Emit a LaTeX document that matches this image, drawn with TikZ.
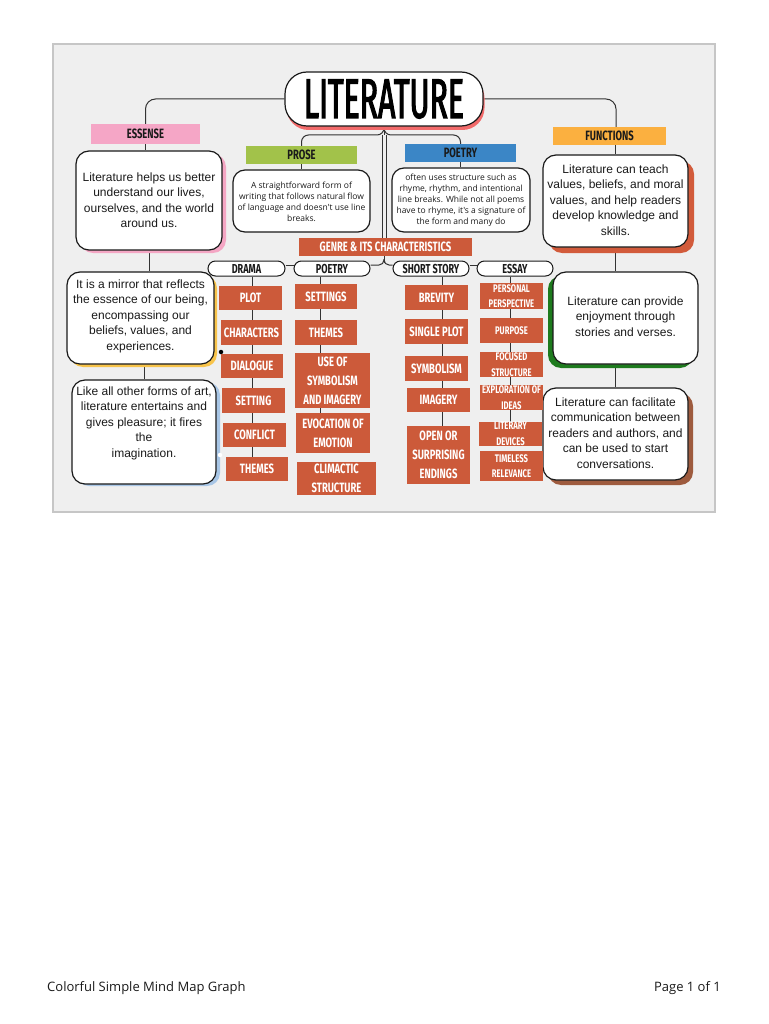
\documentclass[tikz,border=0pt]{standalone}
\usepackage{fontspec}
\setmainfont{Liberation Sans}
\newfontfamily\titlef[FakeStretch=0.54,FakeBold=2]{Fira Sans}
\newfontfamily\labf[FakeStretch=0.7]{Fira Sans}
\newfontfamily\smallf{Open Sans}
\newfontfamily\footf{Open Sans}
\usetikzlibrary{shadows,calc}
\pgfdeclarelayer{back}
\pgfdeclarelayer{bg}
\pgfsetlayers{back,bg,main}
\definecolor{panelC}{HTML}{EFEFEF}
\definecolor{panelB}{HTML}{C6C6C6}
\definecolor{pinkL}{HTML}{F5A6C6}
\definecolor{greenL}{HTML}{A2C24A}
\definecolor{blueL}{HTML}{3B86C6}
\definecolor{orangeL}{HTML}{FBB040}
\definecolor{redB}{HTML}{CC5A3A}
\definecolor{titleS}{HTML}{F26B6B}
\definecolor{pinkS}{HTML}{F4A6C4}
\definecolor{yellowS}{HTML}{F8C44A}
\definecolor{blueS}{HTML}{A8C6E6}
\definecolor{redS}{HTML}{D25B3B}
\definecolor{greenS}{HTML}{1E7B1E}
\definecolor{brownS}{HTML}{9E5B3E}
\definecolor{inkC}{HTML}{1A1A1A}
\definecolor{lineC}{HTML}{333333}
\newcommand\boxat[7][]{\node[#1, minimum width={#5-#3}, minimum height={#6-#4}] (#2) at ({(#3+#5)/2},{(#4+#6)/2}) {#7};}
\tikzset{
  conn/.style={draw=lineC, line width=1pt},
  lbl/.style={inner sep=0, text=inkC, font=\labf\bfseries\fontsize{13.5}{16}\selectfont},
  rb/.style={inner sep=0, fill=redB, text=white, align=center, font=\labf\bfseries\fontsize{13.5}{19}\selectfont},
  eb/.style={inner sep=0, fill=redB, text=white, align=center, font=\labf\bfseries\fontsize{11}{15.5}\selectfont},
  pill/.style={inner sep=0, draw=inkC, line width=1pt, fill=white, rounded corners=7.5pt, text=inkC, font=\labf\bfseries\fontsize{13}{15}\selectfont},
  bigbox/.style={inner sep=0, draw=inkC, line width=1.2pt, fill=white, rounded corners=13pt},
  ptxt/.style={inner sep=0, align=center, text=inkC, font=\fontsize{12}{15.5}\selectfont},
  stxt/.style={inner sep=0, align=center, text=inkC, font=\smallf\fontsize{8.5}{11}\selectfont},
}
\begin{document}
\begin{tikzpicture}[x=1pt,y=-1pt]
\useasboundingbox (0,0) rectangle (768,1024);
\begin{pgfonlayer}{back}
\fill[white] (0,0) rectangle (768,1024);
\draw[fill=panelC, draw=panelB, line width=1.5pt] (53,44) rectangle (715,512);
\end{pgfonlayer}

% title
\boxat[bigbox, rounded corners=22pt, drop shadow={shadow xshift=1.5pt, shadow yshift=-4pt, fill=titleS, opacity=1}]{lit}{285}{72}{483}{126}{\titlef\fontsize{56}{56}\selectfont LITERATURE}

% coloured labels
\boxat[lbl, fill=pinkL]{ess}{91}{124}{200}{144}{ESSENSE}
\boxat[lbl, fill=greenL]{pr}{246}{146}{357}{164}{PROSE}
\boxat[lbl, fill=blueL]{po}{405}{144}{516}{162}{POETRY}
\boxat[lbl, fill=orangeL]{fun}{553}{127}{666}{145}{FUNCTIONS}
\boxat[lbl, fill=redB, text=white]{gen}{299}{238}{472}{256}{GENRE \& ITS CHARACTERISTICS}

% big boxes
\boxat[bigbox, drop shadow={shadow xshift=4pt, shadow yshift=-3pt, fill=pinkS, opacity=1}]{b1}{76}{151}{222}{250}{}
\boxat[bigbox, drop shadow={shadow xshift=3pt, shadow yshift=-3pt, fill=yellowS, opacity=1}]{b2}{67}{272}{214}{364}{}
\boxat[bigbox, drop shadow={shadow xshift=4pt, shadow yshift=-2pt, fill=blueS, opacity=1}]{b3}{72}{380}{216}{484}{}
\boxat[bigbox, drop shadow={shadow xshift=6pt, shadow yshift=-6pt, fill=redS, opacity=1}]{b4}{543}{155}{688}{247}{}
\boxat[bigbox, drop shadow={shadow xshift=-5pt, shadow yshift=-4pt, fill=greenS, opacity=1}]{b5}{553}{272}{698}{364}{}
\boxat[bigbox, drop shadow={shadow xshift=5pt, shadow yshift=-5pt, fill=brownS, opacity=1}]{b6}{543}{388}{688}{480}{}
\boxat[bigbox, rounded corners=12pt]{prB}{233}{170}{370}{232}{}
\boxat[bigbox, rounded corners=12pt]{poB}{392}{168}{530}{232}{}

\node[ptxt] (t1) at (149,200) {Literature helps us better\\understand our lives,\\ourselves, and the world\\around us.};
\node[ptxt] (t2) at (140.5,316) {It is a mirror that reflects\\the essence of our being,\\encompassing our\\beliefs, values, and\\experiences.};
\node[ptxt] (t3) at (144,423) {Like all other forms of art,\\literature entertains and\\gives pleasure; it fires\\the\\imagination.};
\node[ptxt] (t4) at (615.5,200) {Literature can teach\\values, beliefs, and moral\\values, and help readers\\develop knowledge and\\skills.};
\node[ptxt] (t5) at (625.5,316.5) {Literature can provide\\enjoyment through\\stories and verses.};
\node[ptxt] (t6) at (615.5,433) {Literature can facilitate\\communication between\\readers and authors, and\\can be used to start\\conversations.};
\node[stxt] (t7) at (301.5,201.5) {A straightforward form of\\writing that follows natural flow\\of language and doesn't use line\\breaks.};
\node[stxt] (t8) at (461,200) {often uses structure such as\\rhyme, rhythm, and intentional\\line breaks. While not all poems\\have to rhyme, it's a signature of\\the form and many do};

% dots
\node[circle, fill=black, inner sep=0, minimum size=4.5pt] (dotA) at (221,352) {};
\node[circle, fill=white, inner sep=0, minimum size=4.5pt] (dotB) at (220,455) {};

% pills
\boxat[pill]{dP}{208}{261}{285}{276}{DRAMA}
\boxat[pill]{pP}{294}{261}{370}{276}{POETRY}
\boxat[pill]{sP}{393}{261}{469}{276}{SHORT STORY}
\boxat[pill]{eP}{477}{261}{553}{276}{ESSAY}

% drama
\boxat[rb]{d1}{219}{286}{282}{310}{PLOT}
\boxat[rb]{d2}{221}{320}{282}{345}{CHARACTERS}
\boxat[rb]{d3}{221}{354}{283}{378}{DIALOGUE}
\boxat[rb]{d4}{222}{388}{285}{413}{SETTING}
\boxat[rb]{d5}{223}{423}{286}{447}{CONFLICT}
\boxat[rb]{d6}{226}{457}{288}{481}{THEMES}
% poetry
\boxat[rb]{p1}{295}{284}{357}{309}{SETTINGS}
\boxat[rb]{p2}{295}{320}{357}{345}{THEMES}
\boxat[rb]{p3}{295}{353}{370}{408}{USE OF\\SYMBOLISM\\AND IMAGERY}
\boxat[rb]{p4}{296}{413}{370}{453}{EVOCATION OF\\EMOTION}
\boxat[rb]{p5}{297}{462}{376}{495}{CLIMACTIC\\STRUCTURE}
% short story
\boxat[rb]{s1}{405}{285}{468}{310}{BREVITY}
\boxat[rb]{s2}{405}{319}{468}{344}{SINGLE PLOT}
\boxat[rb]{s3}{405}{356}{468}{381}{SYMBOLISM}
\boxat[rb]{s4}{407}{388}{470}{412}{IMAGERY}
\boxat[rb]{s5}{407}{426}{470}{484}{OPEN OR\\SURPRISING\\ENDINGS}
% essay
\boxat[eb]{e1}{480}{283}{543}{309}{PERSONAL\\PERSPECTIVE}
\boxat[eb]{e2}{480}{318}{543}{343}{PURPOSE}
\boxat[eb]{e3}{480}{352}{543}{377}{FOCUSED\\STRUCTURE}
\boxat[eb]{e4}{480}{385}{543}{410}{EXPLORATION OF\\IDEAS}
\boxat[eb]{e5}{479}{422}{542}{446}{LITERARY\\DEVICES}
\boxat[eb]{e6}{480}{451}{543}{481}{TIMELESS\\RELEVANCE}

% footer
\node[anchor=west, inner sep=0, text=inkC, font=\footf\fontsize{13}{15}\selectfont] (f1) at (47,988) {Colorful Simple Mind Map Graph};
\node[anchor=east, inner sep=0, text=inkC, font=\footf\fontsize{13}{15}\selectfont] (f2) at (721,988) {Page 1 of 1};

% connectors
\coordinate (jt) at (384,135);
\coordinate (jg) at (384,265);
\coordinate (dX) at (252,0);
\coordinate (pX) at (320,0);
\coordinate (sX) at (442,0);
\coordinate (eX) at (510,0);
\begin{pgfonlayer}{bg}
\draw[conn, rounded corners=10pt] (lit.west) -| (ess.north);
\draw[conn] (ess.south) -- (ess.south |- b1.north);
\draw[conn] (b1.south) -- (b1.south |- b2.north);
\draw[conn] (b3.north |- b2.south) -- (b3.north);
\draw[conn, rounded corners=10pt] (lit.east) -| ([xshift=6.5pt]fun.north);
\draw[conn] (b4.north |- fun.south) -- (b4.north);
\draw[conn] (b4.south) -- (b4.south |- b5.north);
\draw[conn] (b6.north |- b5.south) -- (b6.north);
\draw[conn, rounded corners=7pt] (lit.south) |- (pr.north |- jt) -- (pr.north);
\draw[conn, rounded corners=7pt] (lit.south) |- (po.north |- jt) -- (po.north);
\draw[conn] ([xshift=-1.5pt]jt) -- ([xshift=-1.5pt]jt |- gen.north);
\draw[conn] ([xshift=2pt]jt) -- ([xshift=2pt]jt |- gen.north);
\draw[conn] (lit.south) -- (jt);
\draw[conn] (gen.south -| jg) -- ([yshift=2pt]jg);
\draw[conn, rounded corners=5pt] ([yshift=6pt]jg) |- ([yshift=3.5pt]pP.east);
\draw[conn, rounded corners=5pt] ([yshift=6pt]jg) |- ([yshift=3.5pt]sP.west);
\draw[conn] ([yshift=3.5pt]dP.east) -- ([yshift=3.5pt]pP.west);
\draw[conn] ([yshift=3.5pt]sP.east) -- ([yshift=3.5pt]eP.west);
\draw[conn] (pr.south) -- (pr.south |- prB.north);
\draw[conn] (po.south) -- (po.south |- poB.north);
\foreach \a/\b in {dP/d1, d1/d2, d2/d3, d3/d4, d4/d5, d5/d6}
  \draw[conn] (\a.south -| dX) -- (\b.north -| dX);
\foreach \a/\b in {pP/p1, p1/p2, p2/p3, p3/p4}
  \draw[conn] (\a.south -| pX) -- (\b.north -| pX);
\foreach \a/\b in {sP/s1, s1/s2, s2/s3, s3/s4, s4/s5}
  \draw[conn] (\a.south -| sX) -- (\b.north -| sX);
\foreach \a/\b in {eP/e1, e1/e2, e2/e3, e3/e4, e4/e5}
  \draw[conn] (\a.south -| eX) -- (\b.north -| eX);
\end{pgfonlayer}
\end{tikzpicture}
\end{document}
